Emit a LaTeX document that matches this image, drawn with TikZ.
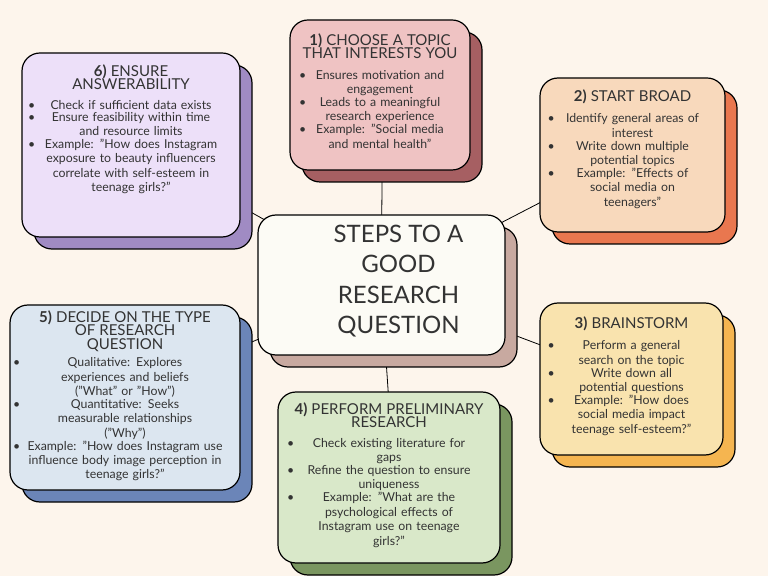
\documentclass[tikz,border=0pt]{standalone}
\usepackage{fontspec}
\setmainfont{Lato}
\usetikzlibrary{shadows,backgrounds}
\definecolor{bgcream}{HTML}{FDF5EC}
\definecolor{pinkA}{HTML}{EFC3C3}\definecolor{pinkB}{HTML}{A65F62}
\definecolor{peachA}{HTML}{F8D9BC}\definecolor{peachB}{HTML}{E9774F}
\definecolor{yellA}{HTML}{F9E3AE}\definecolor{yellB}{HTML}{F5B550}
\definecolor{greenA}{HTML}{D9E8C9}\definecolor{greenB}{HTML}{7A9660}
\definecolor{blueA}{HTML}{DCE6F0}\definecolor{blueB}{HTML}{6B85B8}
\definecolor{lilaA}{HTML}{EDE0F9}\definecolor{lilaB}{HTML}{A08BC3}
\definecolor{midA}{HTML}{FCFBF5}\definecolor{midB}{HTML}{C8A9A0}
\definecolor{ink}{HTML}{333333}
\newcommand{\stepttl}[2]{{\fontsize{15}{13.5}\selectfont\textbf{#1)} #2\par}\vspace{3pt}}
\newcommand{\itm}[2][\linewidth]{\par\noindent\makebox[0pt][l]{\textbullet}\makebox[\linewidth]{\parbox[t]{#1}{\centering\hyphenpenalty=10000\strut #2\strut}}\par\vspace{-2.5pt}}
\tikzset{
  card/.style={draw=black, line width=1.2pt, rounded corners=18pt, fill=#1},
  shade/.style={copy shadow={shadow xshift=12pt, shadow yshift=-12pt, fill=#1, draw=black, line width=1.2pt}},
  txt/.style={anchor=north, align=center, inner sep=0pt, text=ink, font=\fontsize{12.3}{14.4}\selectfont}
}
\begin{document}
\begin{tikzpicture}[x=1pt, y=1pt]
\useasboundingbox (0,0) rectangle (768,576);
\begin{scope}[on background layer]
  \fill[bgcream] (0,0) rectangle (768,576);
  \draw[line width=0.8pt] (381,291) -- (383,481);
  \draw[line width=0.8pt] (381,291) -- (632,421);
  \draw[line width=0.8pt] (381,291) -- (631,197);
  \draw[line width=0.8pt] (381,291) -- (394,98);
  \draw[line width=0.8pt] (381,291) -- (125,178);
  \draw[line width=0.8pt] (381,291) -- (131,431);
\end{scope}
% cards
\node[card=midA, shade=midB, minimum width=247pt, minimum height=140pt] (mid) at (381.5,291) {};
\node[card=pinkA, shade=pinkB, minimum width=180pt, minimum height=150pt] (s1) at (380,481) {};
\node[card=peachA, shade=peachB, minimum width=185pt, minimum height=154pt] (s2) at (632.5,421) {};
\node[card=yellA, shade=yellB, minimum width=183pt, minimum height=152pt] (s3) at (631.5,197) {};
\node[card=greenA, shade=greenB, minimum width=222pt, minimum height=171pt] (s4) at (389,98.5) {};
\node[card=blueA, shade=blueB, minimum width=230pt, minimum height=185pt] (s5) at (125,178.5) {};
\node[card=lilaA, shade=lilaB, minimum width=218pt, minimum height=184pt] (s6) at (131,431) {};
% texts
\node[txt, font=\fontsize{24}{30.5}\selectfont, anchor=center] (title) at ([xshift=17pt, yshift=4pt]mid.center) {STEPS TO A\\GOOD\\RESEARCH\\QUESTION};
\node[txt, text width=162pt] (t1) at ([yshift=-14pt]s1.north) {\stepttl{1}{CHOOSE A TOPIC\\THAT INTERESTS YOU}\vspace{3pt}
\itm[140pt]{Ensures motivation and engagement}\itm[140pt]{Leads to a meaningful research experience}\itm[140pt]{Example: "Social media and mental health"}};
\node[txt, text width=170pt] (t2) at ([yshift=-12pt]s2.north) {\stepttl{2}{START BROAD}\vspace{4pt}
\itm[150pt]{Identify general areas of interest}\itm[140pt]{Write down multiple potential topics}\itm[130pt]{Example: "Effects of social media on teenagers"}};
\node[txt, text width=168pt] (t3) at ([yshift=-14pt]s3.north) {\stepttl{3}{BRAINSTORM}\vspace{4pt}
\itm[130pt]{Perform a general search on the topic}\itm[130pt]{Write down all potential questions}\itm[140pt]{Example: "How does social media impact teenage self-esteem?"}};
\node[txt, text width=204pt] (t4) at ([yshift=-11pt]s4.north) {\stepttl{4}{PERFORM PRELIMINARY\\RESEARCH}\vspace{2pt}
\itm[180pt]{Check existing literature for gaps}\itm[190pt]{Refine the question to ensure uniqueness}\itm[160pt]{Example: "What are the psychological effects of Instagram use on teenage girls?"}};
\node[txt, text width=224pt] (t5) at ([yshift=-6pt]s5.north) {\stepttl{5}{DECIDE ON THE TYPE\\OF RESEARCH\\QUESTION}
\itm[170pt]{Qualitative: Explores experiences and beliefs ("What" or "How")}\itm[170pt]{Quantitative: Seeks measurable relationships ("Why")}\itm[200pt]{Example: "How does Instagram use influence body image perception in teenage girls?"}};
\node[txt, text width=206pt] (t6) at ([yshift=-12pt]s6.north) {\stepttl{6}{ENSURE\\ANSWERABILITY}\vspace{2pt}
\itm{Check if sufficient data exists}\itm[180pt]{Ensure feasibility within time and resource limits}\itm[185pt]{Example: "How does Instagram exposure to beauty influencers correlate with self-esteem in teenage girls?"}};
\end{tikzpicture}
\end{document}
